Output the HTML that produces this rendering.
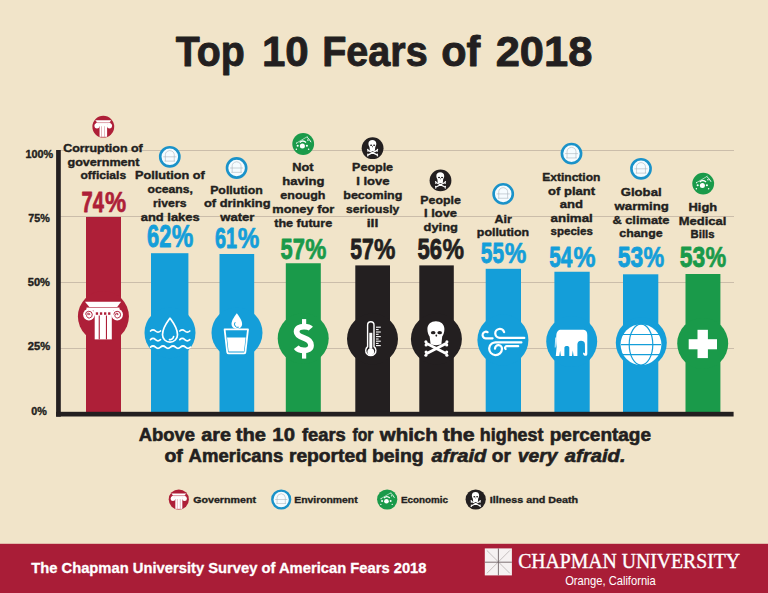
<!DOCTYPE html>
<html><head><meta charset="utf-8"><title>Top 10 Fears of 2018</title>
<style>html,body{margin:0;padding:0;background:#f1e4c9;} svg{display:block;}</style></head>
<body><svg width="768" height="593" viewBox="0 0 768 593">
<rect x="0" y="0" width="768" height="593" fill="#f1e4c9"/>
<text x="175.78" y="65.55" font-family="Liberation Sans" font-weight="bold" font-style="normal" font-size="42" fill="#231f20" textLength="69.10" lengthAdjust="spacingAndGlyphs" stroke="#231f20" stroke-width="0.9" stroke-linejoin="round">Top</text>
<text x="261.94" y="65.55" font-family="Liberation Sans" font-weight="bold" font-style="normal" font-size="42" fill="#231f20" textLength="46.83" lengthAdjust="spacingAndGlyphs" stroke="#231f20" stroke-width="0.9" stroke-linejoin="round">10</text>
<text x="322.21" y="65.55" font-family="Liberation Sans" font-weight="bold" font-style="normal" font-size="42" fill="#231f20" textLength="105.51" lengthAdjust="spacingAndGlyphs" stroke="#231f20" stroke-width="0.9" stroke-linejoin="round">Fears</text>
<text x="441.17" y="65.55" font-family="Liberation Sans" font-weight="bold" font-style="normal" font-size="42" fill="#231f20" textLength="39.12" lengthAdjust="spacingAndGlyphs" stroke="#231f20" stroke-width="0.9" stroke-linejoin="round">of</text>
<text x="495.70" y="65.55" font-family="Liberation Sans" font-weight="bold" font-style="normal" font-size="42" fill="#231f20" textLength="96.62" lengthAdjust="spacingAndGlyphs" stroke="#231f20" stroke-width="0.9" stroke-linejoin="round">2018</text>
<rect x="58" y="150.00" width="676" height="1.0" fill="#cbbdaa"/>
<rect x="58" y="216.00" width="676" height="1.0" fill="#cbbdaa"/>
<rect x="58" y="282.00" width="676" height="1.0" fill="#cbbdaa"/>
<rect x="58" y="348.00" width="676" height="1.0" fill="#cbbdaa"/>
<text x="25.42" y="157.50" font-family="Liberation Sans" font-weight="bold" font-style="normal" font-size="11.19" fill="#231f20" textLength="27.67" lengthAdjust="spacingAndGlyphs" stroke="#231f20" stroke-width="0.4" stroke-linejoin="round">100%</text>
<text x="28.22" y="221.50" font-family="Liberation Sans" font-weight="bold" font-style="normal" font-size="11.19" fill="#231f20" textLength="21.49" lengthAdjust="spacingAndGlyphs" stroke="#231f20" stroke-width="0.4" stroke-linejoin="round">75%</text>
<text x="27.78" y="286.10" font-family="Liberation Sans" font-weight="bold" font-style="normal" font-size="10.47" fill="#231f20" textLength="22.15" lengthAdjust="spacingAndGlyphs" stroke="#231f20" stroke-width="0.4" stroke-linejoin="round">50%</text>
<text x="27.77" y="350.40" font-family="Liberation Sans" font-weight="bold" font-style="normal" font-size="10.19" fill="#231f20" textLength="22.28" lengthAdjust="spacingAndGlyphs" stroke="#231f20" stroke-width="0.4" stroke-linejoin="round">25%</text>
<text x="31.21" y="414.50" font-family="Liberation Sans" font-weight="bold" font-style="normal" font-size="11.19" fill="#231f20" textLength="15.52" lengthAdjust="spacingAndGlyphs" stroke="#231f20" stroke-width="0.4" stroke-linejoin="round">0%</text>
<rect x="86" y="217" width="35.00" height="197.00" fill="#ae1f38"/>
<circle cx="103.4" cy="316.5" r="25.5" fill="#ae1f38"/>
<rect x="151" y="253.2" width="37.40" height="160.80" fill="#149ed9"/>
<circle cx="170" cy="332.7" r="25.5" fill="#149ed9"/>
<rect x="219.5" y="254" width="34.70" height="160.00" fill="#149ed9"/>
<circle cx="237" cy="332.8" r="25.5" fill="#149ed9"/>
<rect x="285.8" y="263.25" width="35.00" height="150.75" fill="#1a9a4a"/>
<circle cx="303.2" cy="338.5" r="25.5" fill="#1a9a4a"/>
<rect x="355.3" y="265.4" width="34.70" height="148.60" fill="#231f20"/>
<circle cx="372.5" cy="339" r="25.5" fill="#231f20"/>
<rect x="419.3" y="265.4" width="34.50" height="148.60" fill="#231f20"/>
<circle cx="436.4" cy="339" r="25.5" fill="#231f20"/>
<rect x="485.7" y="268.8" width="35.30" height="145.20" fill="#149ed9"/>
<circle cx="502.9" cy="340" r="25.5" fill="#149ed9"/>
<rect x="554.4" y="271.75" width="35.30" height="142.25" fill="#149ed9"/>
<circle cx="571.7" cy="341.6" r="25.5" fill="#149ed9"/>
<rect x="623" y="274.3" width="35.30" height="139.70" fill="#149ed9"/>
<circle cx="641.3" cy="342.8" r="25.5" fill="#149ed9"/>
<rect x="685.5" y="274" width="34.90" height="140.00" fill="#1a9a4a"/>
<circle cx="702.7" cy="343.4" r="25.5" fill="#1a9a4a"/>
<rect x="56.1" y="150" width="4.7" height="266.7" fill="#231f20"/>
<rect x="56.1" y="411.8" width="677.5" height="4.7" fill="#231f20"/>
<polygon points="85.00,301.80 121.10,301.80 117.20,306.90 89.30,306.90" fill="#ffffff"/>
<rect x="86.50" y="307.60" width="33.00" height="2.60" fill="#ffffff"/>
<circle cx="88.90" cy="314.60" r="5.80" fill="#ffffff"/>
<path d="M88.90,314.60 m-3.40,0 A3.40,3.40 0 1 1 89.50,318.00 A2.40,2.40 0 0 1 87.30,314.00 A1.30,1.30 0 0 1 89.80,314.60" fill="none" stroke="#ae1f38" stroke-width="0.95"/>
<circle cx="88.90" cy="314.60" r="0.70" fill="#ae1f38"/>
<circle cx="117.20" cy="314.60" r="5.80" fill="#ffffff"/>
<path d="M117.20,314.60 m-3.40,0 A3.40,3.40 0 1 1 117.80,318.00 A2.40,2.40 0 0 1 115.60,314.00 A1.30,1.30 0 0 1 118.10,314.60" fill="none" stroke="#ae1f38" stroke-width="0.95"/>
<circle cx="117.20" cy="314.60" r="0.70" fill="#ae1f38"/>
<rect x="93.50" y="309.50" width="19.60" height="6.00" fill="#ffffff"/>
<rect x="94.70" y="314.00" width="17.10" height="25.40" fill="#ffffff"/>
<rect x="95.80" y="312.30" width="2.30" height="2.50" fill="#ae1f38"/>
<rect x="99.90" y="312.30" width="2.30" height="2.50" fill="#ae1f38"/>
<rect x="104.00" y="312.30" width="2.30" height="2.50" fill="#ae1f38"/>
<rect x="108.10" y="312.30" width="2.30" height="2.50" fill="#ae1f38"/>
<rect x="98.70" y="315.50" width="1.10" height="23.90" fill="#ae1f38"/>
<rect x="105.90" y="315.50" width="1.10" height="23.90" fill="#ae1f38"/>
<g fill="none" stroke="#fff" stroke-width="1.7" stroke-linecap="round" stroke-linejoin="round">
<path d="M170,318.2 C166.5,323 162.5,328 162.5,334.7 A7.5,7.5 0 0 0 177.5,334.7 C177.5,328 173.5,323 170,318.2 Z"/>
<path d="M173.6,336.5 A3.6,3.6 0 0 1 169.5,339.6"/>
<path d="M150.5,331 q2.5,-2.4 5,0 q2.5,2.4 5,0"/><path d="M179.8,331 q2.5,-2.4 5,0 q2.5,2.4 5,0"/>
<path d="M150.5,339.6 q2.5,-2.4 5,0 q2.5,2.4 5,0"/><path d="M179.8,339.6 q2.5,-2.4 5,0 q2.5,2.4 5,0"/>
<path d="M150.5,347.2 q2.5,-2.4 5,0 q2.5,2.4 5,0 q2.5,-2.4 5,0 q2.5,2.4 5,0 q2.5,-2.4 5,0 q2.5,2.4 5,0 q2.5,-2.4 5,0 q2.5,2.4 5,0"/>
</g>
<path d="M236.8,313.3 C233,318.5 231.5,321.5 231.5,324 C231.5,327 233.8,328.8 236.8,328.8 C239.8,328.8 242.1,327 242.1,324 C242.1,321.5 240.6,318.5 236.8,313.3 Z" fill="#fff"/>
<path d="M235.2,322.2 A3.2,3.2 0 0 0 238.8,327.2" stroke="#149ed9" stroke-width="1" fill="none"/>
<path d="M224.6,329.4 L248,329.4 L245.4,352 Q245.2,353.4 243.8,353.4 L228.8,353.4 Q227.4,353.4 227.2,352 Z" fill="none" stroke="#fff" stroke-width="1.8" stroke-linejoin="round"/>
<path d="M227,337.4 L245.6,337.4 L244,351.4 L228.6,351.4 Z" fill="#fff"/>
<path d="M310.8,328.6 C309.2,326.8 306.8,326.6 304,326.6 C299.6,326.6 296.6,328.6 296.6,331.8 C296.6,335.2 299.8,336.6 304,338 C308.2,339.4 311,341.4 311,345.2 C311,348.8 308,350.4 304,350.4 C300.4,350.4 297.8,349.4 296.2,347.2" fill="none" stroke="#fff" stroke-width="5.8"/><rect x="302" y="319.1" width="4.2" height="6" fill="#fff"/><rect x="302" y="352" width="4.2" height="6.6" fill="#fff"/>
<path d="M367.6,346.6 L367.6,325 A3.2,3.2 0 0 1 374,325 L374,346.6 A5.1,5.1 0 1 1 367.6,346.6 Z" fill="none" stroke="#fff" stroke-width="1.4"/>
<rect x="369.3" y="332.8" width="3" height="16" fill="#fff"/><circle cx="370.8" cy="351.8" r="3.4" fill="#fff"/>
<g stroke="#fff" stroke-width="1.1">
<line x1="376" y1="327.2" x2="380.8" y2="327.2"/><line x1="376" y1="329.6" x2="378.6" y2="329.6"/><line x1="376" y1="332" x2="380.8" y2="332"/>
<line x1="376" y1="334.3" x2="378.6" y2="334.3"/><line x1="376" y1="336.6" x2="380.8" y2="336.6"/><line x1="376" y1="339" x2="378.6" y2="339"/>
<line x1="376" y1="341.2" x2="380.8" y2="341.2"/><line x1="376" y1="343.4" x2="378.6" y2="343.4"/><line x1="376" y1="345.6" x2="380.8" y2="345.6"/>
</g>
<path d="M426.80,343.60 L446.00,353.40 M446.00,343.60 L426.80,353.40" stroke="#ffffff" stroke-width="2.80" stroke-linecap="round"/>
<circle cx="425.90" cy="341.80" r="1.55" fill="#ffffff"/>
<circle cx="426.10" cy="344.90" r="1.55" fill="#ffffff"/>
<circle cx="446.90" cy="341.80" r="1.55" fill="#ffffff"/>
<circle cx="446.70" cy="344.90" r="1.55" fill="#ffffff"/>
<circle cx="425.90" cy="355.20" r="1.55" fill="#ffffff"/>
<circle cx="426.10" cy="352.10" r="1.55" fill="#ffffff"/>
<circle cx="446.90" cy="355.20" r="1.55" fill="#ffffff"/>
<circle cx="446.70" cy="352.10" r="1.55" fill="#ffffff"/>
<path d="M427.40,329.00 C427.40,324.00 431.00,321.20 435.90,321.20 C440.80,321.20 444.40,324.00 444.40,329.00 C444.40,332.50 443.30,335.00 442.20,336.50 L441.40,344.00 C440.00,345.50 432.00,345.50 430.60,344.00 L429.60,336.50 C428.50,335.00 427.40,332.50 427.40,329.00 Z" fill="#ffffff"/>
<ellipse cx="433.20" cy="332.70" rx="2.30" ry="1.60" fill="#231f20"/>
<ellipse cx="439.70" cy="332.70" rx="2.30" ry="1.60" fill="#231f20"/>
<ellipse cx="436.30" cy="335.60" rx="0.90" ry="1.10" fill="#231f20"/>
<g fill="none" stroke="#fff" stroke-width="2.2" stroke-linecap="round">
<path d="M504.1,332.1 A4.5,4.5 0 1 0 499.8,337.9 L524.3,337.9"/>
<path d="M487.6,332.2 A3.3,3.3 0 1 0 485.6,338.3 L492.6,338.3"/>
<path d="M521.4,342.4 L496.5,342.4 A6.4,6.4 0 1 0 502,348.8 A3.4,3.4 0 1 0 495,348.6"/>
<path d="M518.2,346.2 L506.6,346.2 A1.6,1.6 0 0 0 505.6,349"/>
</g>
<path d="M556.3,335.5 C556.6,331.5 558.5,329.8 561,329.8 L583.5,329.8 C586,329.8 587.3,332 587.3,335 L587.3,354 C587.3,356.6 583.4,356.6 583,353.2 L583.2,352.2 C583.9,353.6 585,353.6 585,352.2 L584.9,344 C584.9,342 583,340.8 581,340.8 C578.8,340.8 577.4,342.4 577.4,344.5 L577.4,356.1 L573.6,356.1 L572.8,350.5 L572,356.1 L569.3,356.1 L569.3,347.8 C569.3,346.6 568.3,346 566.9,346 C565.4,346 564.4,346.6 564.4,347.8 L564.4,356.1 L560.9,356.1 L560.1,350.8 L559.3,356.1 L555.8,356.1 L556.6,347 C556.1,343 556,339 556.3,335.5 Z" fill="#fff"/><path d="M555.7,337.5 L555.2,347.5" stroke="#fff" stroke-width="0.8"/>
<circle cx="641" cy="344.6" r="20.4" fill="#fff"/>
<g fill="none" stroke="#149ed9" stroke-width="1.2"><ellipse cx="641" cy="344.6" rx="11.8" ry="20.4"/>
<line x1="621" y1="344.6" x2="661" y2="344.6"/><line x1="623" y1="334.5" x2="659" y2="334.5"/><line x1="623" y1="354.6" x2="659" y2="354.6"/></g>
<rect x="697.5" y="329.8" width="10.4" height="28.3" fill="#fff"/><rect x="688.7" y="339.2" width="28.3" height="10.1" fill="#fff"/>
<circle cx="103.3" cy="126.7" r="10.9" fill="#ae1f38"/><polygon points="95.27,120.20 111.22,120.20 109.50,122.46 97.17,122.46" fill="#ffffff"/>
<rect x="95.93" y="122.77" width="14.59" height="1.15" fill="#ffffff"/>
<circle cx="96.99" cy="125.86" r="2.56" fill="#ffffff"/>
<circle cx="109.50" cy="125.86" r="2.56" fill="#ffffff"/>
<rect x="99.02" y="123.61" width="8.66" height="2.65" fill="#ffffff"/>
<rect x="99.55" y="125.59" width="7.56" height="11.23" fill="#ffffff"/>
<rect x="101.28" y="126.26" width="0.53" height="10.56" fill="#ae1f38" opacity="0.6"/>
<rect x="104.46" y="126.26" width="0.53" height="10.56" fill="#ae1f38" opacity="0.6"/>
<circle cx="169.8" cy="156.8" r="9.59" fill="#f6fcff" stroke="#1a92c9" stroke-width="2.62"/>
<path d="M165.36,161.14 L165.36,154.58 Q165.56,151.15 169.80,150.54 Q174.04,151.15 174.24,154.58 L174.24,161.14 M164.55,161.14 L175.05,161.14 M163.24,156.80 L176.36,156.80" fill="none" stroke="#aab4bc" stroke-width="0.66" opacity="0.9"/>
<circle cx="236.6" cy="168" r="9.59" fill="#f6fcff" stroke="#1a92c9" stroke-width="2.62"/>
<path d="M232.16,172.34 L232.16,165.78 Q232.36,162.35 236.60,161.74 Q240.84,162.35 241.04,165.78 L241.04,172.34 M231.35,172.34 L241.85,172.34 M230.04,168.00 L243.16,168.00" fill="none" stroke="#aab4bc" stroke-width="0.66" opacity="0.9"/>
<circle cx="303.2" cy="144" r="10.9" fill="#1a9a4a"/>
<circle cx="302.40" cy="145.91" r="2.51" fill="#fff"/>
<circle cx="297.67" cy="145.71" r="1.05" fill="#fff"/>
<circle cx="306.92" cy="145.71" r="1.05" fill="#fff"/>
<circle cx="296.37" cy="149.22" r="0.75" fill="#fff"/>
<circle cx="308.62" cy="149.22" r="0.75" fill="#fff"/>
<circle cx="307.92" cy="140.08" r="0.80" fill="#fff"/>
<circle cx="296.57" cy="143.10" r="0.60" fill="#fff"/>
<path d="M299.78,142.39 Q302.80,139.38 306.01,142.39" fill="none" stroke="#fff" stroke-width="1.41"/>
<path d="M296.57,143.00 L307.62,136.47" fill="none" stroke="#fff" stroke-width="0.70" opacity="0.85"/>
<path d="M306.82,136.97 L309.23,139.38 L311.04,142.19" fill="none" stroke="#fff" stroke-width="1.00" opacity="0.9"/>
<circle cx="372.6" cy="148.2" r="10.9" fill="#231f20"/><path d="M368.16,150.33 L377.04,154.85 M377.04,150.33 L368.16,154.85" stroke="#ffffff" stroke-width="1.29" stroke-linecap="round"/>
<circle cx="367.75" cy="149.49" r="0.72" fill="#ffffff"/>
<circle cx="367.84" cy="150.93" r="0.72" fill="#ffffff"/>
<circle cx="377.45" cy="149.49" r="0.72" fill="#ffffff"/>
<circle cx="377.36" cy="150.93" r="0.72" fill="#ffffff"/>
<circle cx="367.75" cy="155.69" r="0.72" fill="#ffffff"/>
<circle cx="367.84" cy="154.25" r="0.72" fill="#ffffff"/>
<circle cx="377.45" cy="155.69" r="0.72" fill="#ffffff"/>
<circle cx="377.36" cy="154.25" r="0.72" fill="#ffffff"/>
<path d="M368.44,143.58 C368.44,141.27 370.10,139.97 372.37,139.97 C374.63,139.97 376.30,141.27 376.30,143.58 C376.30,145.20 375.79,146.35 375.28,147.04 L374.91,150.51 C374.26,151.20 370.57,151.20 369.92,150.51 L369.46,147.04 C368.95,146.35 368.44,145.20 368.44,143.58 Z" fill="#ffffff"/>
<ellipse cx="371.12" cy="145.29" rx="1.06" ry="0.74" fill="#231f20"/>
<ellipse cx="374.12" cy="145.29" rx="1.06" ry="0.74" fill="#231f20"/>
<ellipse cx="372.55" cy="146.63" rx="0.42" ry="0.51" fill="#231f20"/>
<circle cx="440.5" cy="180.4" r="10.9" fill="#231f20"/><path d="M436.06,182.53 L444.94,187.05 M444.94,182.53 L436.06,187.05" stroke="#ffffff" stroke-width="1.29" stroke-linecap="round"/>
<circle cx="435.65" cy="181.69" r="0.72" fill="#ffffff"/>
<circle cx="435.74" cy="183.13" r="0.72" fill="#ffffff"/>
<circle cx="445.35" cy="181.69" r="0.72" fill="#ffffff"/>
<circle cx="445.26" cy="183.13" r="0.72" fill="#ffffff"/>
<circle cx="435.65" cy="187.89" r="0.72" fill="#ffffff"/>
<circle cx="435.74" cy="186.45" r="0.72" fill="#ffffff"/>
<circle cx="445.35" cy="187.89" r="0.72" fill="#ffffff"/>
<circle cx="445.26" cy="186.45" r="0.72" fill="#ffffff"/>
<path d="M436.34,175.78 C436.34,173.47 438.00,172.17 440.27,172.17 C442.53,172.17 444.20,173.47 444.20,175.78 C444.20,177.40 443.69,178.55 443.18,179.24 L442.81,182.71 C442.16,183.40 438.47,183.40 437.82,182.71 L437.36,179.24 C436.85,178.55 436.34,177.40 436.34,175.78 Z" fill="#ffffff"/>
<ellipse cx="439.02" cy="177.49" rx="1.06" ry="0.74" fill="#231f20"/>
<ellipse cx="442.02" cy="177.49" rx="1.06" ry="0.74" fill="#231f20"/>
<ellipse cx="440.45" cy="178.83" rx="0.42" ry="0.51" fill="#231f20"/>
<circle cx="503.2" cy="193.9" r="9.59" fill="#f6fcff" stroke="#1a92c9" stroke-width="2.62"/>
<path d="M498.76,198.24 L498.76,191.68 Q498.96,188.25 503.20,187.64 Q507.44,188.25 507.64,191.68 L507.64,198.24 M497.95,198.24 L508.45,198.24 M496.64,193.90 L509.76,193.90" fill="none" stroke="#aab4bc" stroke-width="0.66" opacity="0.9"/>
<circle cx="571.5" cy="153.6" r="9.59" fill="#f6fcff" stroke="#1a92c9" stroke-width="2.62"/>
<path d="M567.06,157.94 L567.06,151.38 Q567.26,147.95 571.50,147.34 Q575.74,147.95 575.94,151.38 L575.94,157.94 M566.25,157.94 L576.75,157.94 M564.94,153.60 L578.06,153.60" fill="none" stroke="#aab4bc" stroke-width="0.66" opacity="0.9"/>
<circle cx="641" cy="168.8" r="9.59" fill="#f6fcff" stroke="#1a92c9" stroke-width="2.62"/>
<path d="M636.56,173.14 L636.56,166.58 Q636.76,163.15 641.00,162.54 Q645.24,163.15 645.44,166.58 L645.44,173.14 M635.75,173.14 L646.25,173.14 M634.44,168.80 L647.56,168.80" fill="none" stroke="#aab4bc" stroke-width="0.66" opacity="0.9"/>
<circle cx="703.2" cy="183.6" r="10.9" fill="#1a9a4a"/>
<circle cx="702.40" cy="185.51" r="2.51" fill="#fff"/>
<circle cx="697.67" cy="185.31" r="1.05" fill="#fff"/>
<circle cx="706.92" cy="185.31" r="1.05" fill="#fff"/>
<circle cx="696.37" cy="188.82" r="0.75" fill="#fff"/>
<circle cx="708.62" cy="188.82" r="0.75" fill="#fff"/>
<circle cx="707.92" cy="179.68" r="0.80" fill="#fff"/>
<circle cx="696.57" cy="182.70" r="0.60" fill="#fff"/>
<path d="M699.78,181.99 Q702.80,178.98 706.01,181.99" fill="none" stroke="#fff" stroke-width="1.41"/>
<path d="M696.57,182.60 L707.62,176.07" fill="none" stroke="#fff" stroke-width="0.70" opacity="0.85"/>
<path d="M706.82,176.57 L709.23,178.98 L711.04,181.79" fill="none" stroke="#fff" stroke-width="1.00" opacity="0.9"/>
<text x="81.49" y="212.00" font-family="Liberation Sans" font-weight="bold" font-style="normal" font-size="30.29" fill="#ae1f38" textLength="22.29" lengthAdjust="spacingAndGlyphs" stroke="#ae1f38" stroke-width="0.9" stroke-linejoin="round">74</text>
<text x="104.90" y="212.10" font-family="Liberation Sans" font-weight="bold" font-style="normal" font-size="30.29" fill="#ae1f38" textLength="21.14" lengthAdjust="spacingAndGlyphs" stroke="#ae1f38" stroke-width="0.7" stroke-linejoin="round">%</text>
<text x="147.06" y="247.05" font-family="Liberation Sans" font-weight="bold" font-style="normal" font-size="30.59" fill="#149ed9" textLength="24.29" lengthAdjust="spacingAndGlyphs" stroke="#149ed9" stroke-width="0.9" stroke-linejoin="round">62</text>
<text x="171.79" y="247.15" font-family="Liberation Sans" font-weight="bold" font-style="normal" font-size="30.59" fill="#149ed9" textLength="21.61" lengthAdjust="spacingAndGlyphs" stroke="#149ed9" stroke-width="0.7" stroke-linejoin="round">%</text>
<text x="214.93" y="247.75" font-family="Liberation Sans" font-weight="bold" font-style="normal" font-size="30.29" fill="#149ed9" textLength="22.04" lengthAdjust="spacingAndGlyphs" stroke="#149ed9" stroke-width="0.9" stroke-linejoin="round">61</text>
<text x="237.69" y="247.85" font-family="Liberation Sans" font-weight="bold" font-style="normal" font-size="30.29" fill="#149ed9" textLength="21.57" lengthAdjust="spacingAndGlyphs" stroke="#149ed9" stroke-width="0.7" stroke-linejoin="round">%</text>
<text x="280.60" y="259.00" font-family="Liberation Sans" font-weight="bold" font-style="normal" font-size="30.29" fill="#1a9a4a" textLength="24.28" lengthAdjust="spacingAndGlyphs" stroke="#1a9a4a" stroke-width="0.9" stroke-linejoin="round">57</text>
<text x="305.20" y="259.10" font-family="Liberation Sans" font-weight="bold" font-style="normal" font-size="30.29" fill="#1a9a4a" textLength="21.14" lengthAdjust="spacingAndGlyphs" stroke="#1a9a4a" stroke-width="0.7" stroke-linejoin="round">%</text>
<text x="350.22" y="259.00" font-family="Liberation Sans" font-weight="bold" font-style="normal" font-size="30.29" fill="#231f20" textLength="23.48" lengthAdjust="spacingAndGlyphs" stroke="#231f20" stroke-width="0.9" stroke-linejoin="round">57</text>
<text x="374.04" y="259.10" font-family="Liberation Sans" font-weight="bold" font-style="normal" font-size="30.29" fill="#231f20" textLength="21.41" lengthAdjust="spacingAndGlyphs" stroke="#231f20" stroke-width="0.7" stroke-linejoin="round">%</text>
<text x="417.59" y="259.00" font-family="Liberation Sans" font-weight="bold" font-style="normal" font-size="30.29" fill="#231f20" textLength="24.56" lengthAdjust="spacingAndGlyphs" stroke="#231f20" stroke-width="0.9" stroke-linejoin="round">56</text>
<text x="442.59" y="259.10" font-family="Liberation Sans" font-weight="bold" font-style="normal" font-size="30.29" fill="#231f20" textLength="21.57" lengthAdjust="spacingAndGlyphs" stroke="#231f20" stroke-width="0.7" stroke-linejoin="round">%</text>
<text x="480.83" y="263.35" font-family="Liberation Sans" font-weight="bold" font-style="normal" font-size="30.29" fill="#149ed9" textLength="23.17" lengthAdjust="spacingAndGlyphs" stroke="#149ed9" stroke-width="0.9" stroke-linejoin="round">55</text>
<text x="504.69" y="263.45" font-family="Liberation Sans" font-weight="bold" font-style="normal" font-size="30.29" fill="#149ed9" textLength="21.57" lengthAdjust="spacingAndGlyphs" stroke="#149ed9" stroke-width="0.7" stroke-linejoin="round">%</text>
<text x="549.23" y="266.55" font-family="Liberation Sans" font-weight="bold" font-style="normal" font-size="30.29" fill="#149ed9" textLength="23.05" lengthAdjust="spacingAndGlyphs" stroke="#149ed9" stroke-width="0.9" stroke-linejoin="round">54</text>
<text x="573.38" y="266.65" font-family="Liberation Sans" font-weight="bold" font-style="normal" font-size="30.29" fill="#149ed9" textLength="21.99" lengthAdjust="spacingAndGlyphs" stroke="#149ed9" stroke-width="0.7" stroke-linejoin="round">%</text>
<text x="617.77" y="267.00" font-family="Liberation Sans" font-weight="bold" font-style="normal" font-size="30.29" fill="#149ed9" textLength="25.41" lengthAdjust="spacingAndGlyphs" stroke="#149ed9" stroke-width="0.9" stroke-linejoin="round">53</text>
<text x="643.61" y="267.10" font-family="Liberation Sans" font-weight="bold" font-style="normal" font-size="30.29" fill="#149ed9" textLength="20.72" lengthAdjust="spacingAndGlyphs" stroke="#149ed9" stroke-width="0.7" stroke-linejoin="round">%</text>
<text x="679.77" y="267.00" font-family="Liberation Sans" font-weight="bold" font-style="normal" font-size="30.29" fill="#1a9a4a" textLength="25.41" lengthAdjust="spacingAndGlyphs" stroke="#1a9a4a" stroke-width="0.9" stroke-linejoin="round">53</text>
<text x="705.61" y="267.10" font-family="Liberation Sans" font-weight="bold" font-style="normal" font-size="30.29" fill="#1a9a4a" textLength="20.72" lengthAdjust="spacingAndGlyphs" stroke="#1a9a4a" stroke-width="0.7" stroke-linejoin="round">%</text>
<text x="63.16" y="151.70" font-family="Liberation Sans" font-weight="bold" font-style="normal" font-size="11.6" fill="#231f20" textLength="79.63" lengthAdjust="spacingAndGlyphs" stroke="#231f20" stroke-width="0.4" stroke-linejoin="round">Corruption of</text>
<text x="67.46" y="165.70" font-family="Liberation Sans" font-weight="bold" font-style="normal" font-size="11.6" fill="#231f20" textLength="72.05" lengthAdjust="spacingAndGlyphs" stroke="#231f20" stroke-width="0.4" stroke-linejoin="round">government</text>
<text x="80.48" y="179.00" font-family="Liberation Sans" font-weight="bold" font-style="normal" font-size="11.6" fill="#231f20" textLength="45.67" lengthAdjust="spacingAndGlyphs" stroke="#231f20" stroke-width="0.4" stroke-linejoin="round">officials</text>
<text x="135.03" y="178.90" font-family="Liberation Sans" font-weight="bold" font-style="normal" font-size="11.6" fill="#231f20" textLength="69.76" lengthAdjust="spacingAndGlyphs" stroke="#231f20" stroke-width="0.4" stroke-linejoin="round">Pollution of</text>
<text x="147.48" y="193.00" font-family="Liberation Sans" font-weight="bold" font-style="normal" font-size="11.6" fill="#231f20" textLength="45.36" lengthAdjust="spacingAndGlyphs" stroke="#231f20" stroke-width="0.4" stroke-linejoin="round">oceans,</text>
<text x="153.11" y="207.10" font-family="Liberation Sans" font-weight="bold" font-style="normal" font-size="11.6" fill="#231f20" textLength="33.37" lengthAdjust="spacingAndGlyphs" stroke="#231f20" stroke-width="0.4" stroke-linejoin="round">rivers</text>
<text x="140.77" y="220.60" font-family="Liberation Sans" font-weight="bold" font-style="normal" font-size="11.6" fill="#231f20" textLength="58.86" lengthAdjust="spacingAndGlyphs" stroke="#231f20" stroke-width="0.4" stroke-linejoin="round">and lakes</text>
<text x="210.15" y="193.70" font-family="Liberation Sans" font-weight="bold" font-style="normal" font-size="11.6" fill="#231f20" textLength="52.71" lengthAdjust="spacingAndGlyphs" stroke="#231f20" stroke-width="0.4" stroke-linejoin="round">Pollution</text>
<text x="203.96" y="207.30" font-family="Liberation Sans" font-weight="bold" font-style="normal" font-size="11.6" fill="#231f20" textLength="66.56" lengthAdjust="spacingAndGlyphs" stroke="#231f20" stroke-width="0.4" stroke-linejoin="round">of drinking</text>
<text x="220.30" y="221.40" font-family="Liberation Sans" font-weight="bold" font-style="normal" font-size="11.6" fill="#231f20" textLength="34.13" lengthAdjust="spacingAndGlyphs" stroke="#231f20" stroke-width="0.4" stroke-linejoin="round">water</text>
<text x="292.32" y="171.20" font-family="Liberation Sans" font-weight="bold" font-style="normal" font-size="11.6" fill="#231f20" textLength="21.32" lengthAdjust="spacingAndGlyphs" stroke="#231f20" stroke-width="0.4" stroke-linejoin="round">Not</text>
<text x="282.30" y="184.80" font-family="Liberation Sans" font-weight="bold" font-style="normal" font-size="11.6" fill="#231f20" textLength="42.08" lengthAdjust="spacingAndGlyphs" stroke="#231f20" stroke-width="0.4" stroke-linejoin="round">having</text>
<text x="280.37" y="199.00" font-family="Liberation Sans" font-weight="bold" font-style="normal" font-size="11.6" fill="#231f20" textLength="45.06" lengthAdjust="spacingAndGlyphs" stroke="#231f20" stroke-width="0.4" stroke-linejoin="round">enough</text>
<text x="272.32" y="212.50" font-family="Liberation Sans" font-weight="bold" font-style="normal" font-size="11.6" fill="#231f20" textLength="61.98" lengthAdjust="spacingAndGlyphs" stroke="#231f20" stroke-width="0.4" stroke-linejoin="round">money for</text>
<text x="274.19" y="226.70" font-family="Liberation Sans" font-weight="bold" font-style="normal" font-size="11.6" fill="#231f20" textLength="58.03" lengthAdjust="spacingAndGlyphs" stroke="#231f20" stroke-width="0.4" stroke-linejoin="round">the future</text>
<text x="352.14" y="171.20" font-family="Liberation Sans" font-weight="bold" font-style="normal" font-size="11.6" fill="#231f20" textLength="40.92" lengthAdjust="spacingAndGlyphs" stroke="#231f20" stroke-width="0.4" stroke-linejoin="round">People</text>
<text x="356.20" y="184.80" font-family="Liberation Sans" font-weight="bold" font-style="normal" font-size="11.6" fill="#231f20" textLength="33.41" lengthAdjust="spacingAndGlyphs" stroke="#231f20" stroke-width="0.4" stroke-linejoin="round">I love</text>
<text x="343.24" y="199.00" font-family="Liberation Sans" font-weight="bold" font-style="normal" font-size="11.6" fill="#231f20" textLength="59.21" lengthAdjust="spacingAndGlyphs" stroke="#231f20" stroke-width="0.4" stroke-linejoin="round">becoming</text>
<text x="346.08" y="212.50" font-family="Liberation Sans" font-weight="bold" font-style="normal" font-size="11.6" fill="#231f20" textLength="53.16" lengthAdjust="spacingAndGlyphs" stroke="#231f20" stroke-width="0.4" stroke-linejoin="round">seriously</text>
<text x="366.73" y="226.70" font-family="Liberation Sans" font-weight="bold" font-style="normal" font-size="11.6" fill="#231f20" textLength="11.73" lengthAdjust="spacingAndGlyphs" stroke="#231f20" stroke-width="0.4" stroke-linejoin="round">ill</text>
<text x="420.35" y="203.50" font-family="Liberation Sans" font-weight="bold" font-style="normal" font-size="11.6" fill="#231f20" textLength="40.41" lengthAdjust="spacingAndGlyphs" stroke="#231f20" stroke-width="0.4" stroke-linejoin="round">People</text>
<text x="424.06" y="217.40" font-family="Liberation Sans" font-weight="bold" font-style="normal" font-size="11.6" fill="#231f20" textLength="32.94" lengthAdjust="spacingAndGlyphs" stroke="#231f20" stroke-width="0.4" stroke-linejoin="round">I love</text>
<text x="423.54" y="230.90" font-family="Liberation Sans" font-weight="bold" font-style="normal" font-size="11.6" fill="#231f20" textLength="34.38" lengthAdjust="spacingAndGlyphs" stroke="#231f20" stroke-width="0.4" stroke-linejoin="round">dying</text>
<text x="494.58" y="222.50" font-family="Liberation Sans" font-weight="bold" font-style="normal" font-size="11.6" fill="#231f20" textLength="17.25" lengthAdjust="spacingAndGlyphs" stroke="#231f20" stroke-width="0.4" stroke-linejoin="round">Air</text>
<text x="476.85" y="235.70" font-family="Liberation Sans" font-weight="bold" font-style="normal" font-size="11.6" fill="#231f20" textLength="52.26" lengthAdjust="spacingAndGlyphs" stroke="#231f20" stroke-width="0.4" stroke-linejoin="round">pollution</text>
<text x="542.27" y="180.75" font-family="Liberation Sans" font-weight="bold" font-style="normal" font-size="11.6" fill="#231f20" textLength="58.12" lengthAdjust="spacingAndGlyphs" stroke="#231f20" stroke-width="0.4" stroke-linejoin="round">Extinction</text>
<text x="548.05" y="194.50" font-family="Liberation Sans" font-weight="bold" font-style="normal" font-size="11.6" fill="#231f20" textLength="47.05" lengthAdjust="spacingAndGlyphs" stroke="#231f20" stroke-width="0.4" stroke-linejoin="round">of plant</text>
<text x="559.76" y="208.10" font-family="Liberation Sans" font-weight="bold" font-style="normal" font-size="11.6" fill="#231f20" textLength="23.27" lengthAdjust="spacingAndGlyphs" stroke="#231f20" stroke-width="0.4" stroke-linejoin="round">and</text>
<text x="550.61" y="222.00" font-family="Liberation Sans" font-weight="bold" font-style="normal" font-size="11.6" fill="#231f20" textLength="42.17" lengthAdjust="spacingAndGlyphs" stroke="#231f20" stroke-width="0.4" stroke-linejoin="round">animal</text>
<text x="550.55" y="235.40" font-family="Liberation Sans" font-weight="bold" font-style="normal" font-size="11.6" fill="#231f20" textLength="42.31" lengthAdjust="spacingAndGlyphs" stroke="#231f20" stroke-width="0.4" stroke-linejoin="round">species</text>
<text x="620.78" y="196.10" font-family="Liberation Sans" font-weight="bold" font-style="normal" font-size="11.6" fill="#231f20" textLength="40.81" lengthAdjust="spacingAndGlyphs" stroke="#231f20" stroke-width="0.4" stroke-linejoin="round">Global</text>
<text x="614.60" y="209.70" font-family="Liberation Sans" font-weight="bold" font-style="normal" font-size="11.6" fill="#231f20" textLength="54.31" lengthAdjust="spacingAndGlyphs" stroke="#231f20" stroke-width="0.4" stroke-linejoin="round">warming</text>
<text x="612.45" y="223.80" font-family="Liberation Sans" font-weight="bold" font-style="normal" font-size="11.6" fill="#231f20" textLength="56.97" lengthAdjust="spacingAndGlyphs" stroke="#231f20" stroke-width="0.4" stroke-linejoin="round">&amp; climate</text>
<text x="619.37" y="237.40" font-family="Liberation Sans" font-weight="bold" font-style="normal" font-size="11.6" fill="#231f20" textLength="43.16" lengthAdjust="spacingAndGlyphs" stroke="#231f20" stroke-width="0.4" stroke-linejoin="round">change</text>
<text x="688.51" y="210.50" font-family="Liberation Sans" font-weight="bold" font-style="normal" font-size="11.6" fill="#231f20" textLength="28.64" lengthAdjust="spacingAndGlyphs" stroke="#231f20" stroke-width="0.4" stroke-linejoin="round">High</text>
<text x="678.81" y="224.60" font-family="Liberation Sans" font-weight="bold" font-style="normal" font-size="11.6" fill="#231f20" textLength="47.54" lengthAdjust="spacingAndGlyphs" stroke="#231f20" stroke-width="0.4" stroke-linejoin="round">Medical</text>
<text x="690.62" y="238.20" font-family="Liberation Sans" font-weight="bold" font-style="normal" font-size="11.6" fill="#231f20" textLength="23.86" lengthAdjust="spacingAndGlyphs" stroke="#231f20" stroke-width="0.4" stroke-linejoin="round">Bills</text>
<text x="138.80" y="440.60" font-family="Liberation Sans" font-weight="bold" font-style="normal" font-size="18.4" fill="#231f20" textLength="56.33" lengthAdjust="spacingAndGlyphs" stroke="#231f20" stroke-width="0.6" stroke-linejoin="round">Above</text>
<text x="201.16" y="440.60" font-family="Liberation Sans" font-weight="bold" font-style="normal" font-size="18.4" fill="#231f20" textLength="29.82" lengthAdjust="spacingAndGlyphs" stroke="#231f20" stroke-width="0.6" stroke-linejoin="round">are</text>
<text x="235.78" y="440.60" font-family="Liberation Sans" font-weight="bold" font-style="normal" font-size="18.4" fill="#231f20" textLength="30.17" lengthAdjust="spacingAndGlyphs" stroke="#231f20" stroke-width="0.6" stroke-linejoin="round">the</text>
<text x="272.39" y="440.60" font-family="Liberation Sans" font-weight="bold" font-style="normal" font-size="18.4" fill="#231f20" textLength="22.56" lengthAdjust="spacingAndGlyphs" stroke="#231f20" stroke-width="0.6" stroke-linejoin="round">10</text>
<text x="302.00" y="440.60" font-family="Liberation Sans" font-weight="bold" font-style="normal" font-size="18.4" fill="#231f20" textLength="43.78" lengthAdjust="spacingAndGlyphs" stroke="#231f20" stroke-width="0.6" stroke-linejoin="round">fears</text>
<text x="352.44" y="440.60" font-family="Liberation Sans" font-weight="bold" font-style="normal" font-size="18.4" fill="#231f20" textLength="20.95" lengthAdjust="spacingAndGlyphs" stroke="#231f20" stroke-width="0.6" stroke-linejoin="round">for</text>
<text x="379.81" y="440.60" font-family="Liberation Sans" font-weight="bold" font-style="normal" font-size="18.4" fill="#231f20" textLength="57.95" lengthAdjust="spacingAndGlyphs" stroke="#231f20" stroke-width="0.6" stroke-linejoin="round">which</text>
<text x="442.67" y="440.60" font-family="Liberation Sans" font-weight="bold" font-style="normal" font-size="18.4" fill="#231f20" textLength="32.03" lengthAdjust="spacingAndGlyphs" stroke="#231f20" stroke-width="0.6" stroke-linejoin="round">the</text>
<text x="479.84" y="440.60" font-family="Liberation Sans" font-weight="bold" font-style="normal" font-size="18.4" fill="#231f20" textLength="63.58" lengthAdjust="spacingAndGlyphs" stroke="#231f20" stroke-width="0.6" stroke-linejoin="round">highest</text>
<text x="549.76" y="440.60" font-family="Liberation Sans" font-weight="bold" font-style="normal" font-size="18.4" fill="#231f20" textLength="101.23" lengthAdjust="spacingAndGlyphs" stroke="#231f20" stroke-width="0.6" stroke-linejoin="round">percentage</text>
<text x="164.46" y="461.50" font-family="Liberation Sans" font-weight="bold" font-style="normal" font-size="18.4" fill="#231f20" textLength="18.41" lengthAdjust="spacingAndGlyphs" stroke="#231f20" stroke-width="0.6" stroke-linejoin="round">of</text>
<text x="188.60" y="461.50" font-family="Liberation Sans" font-weight="bold" font-style="normal" font-size="18.4" fill="#231f20" textLength="94.60" lengthAdjust="spacingAndGlyphs" stroke="#231f20" stroke-width="0.6" stroke-linejoin="round">Americans</text>
<text x="288.95" y="461.50" font-family="Liberation Sans" font-weight="bold" font-style="normal" font-size="18.4" fill="#231f20" textLength="78.04" lengthAdjust="spacingAndGlyphs" stroke="#231f20" stroke-width="0.6" stroke-linejoin="round">reported</text>
<text x="371.93" y="461.50" font-family="Liberation Sans" font-weight="bold" font-style="normal" font-size="18.4" fill="#231f20" textLength="51.80" lengthAdjust="spacingAndGlyphs" stroke="#231f20" stroke-width="0.6" stroke-linejoin="round">being</text>
<text x="431.49" y="461.50" font-family="Liberation Sans" font-weight="bold" font-style="italic" font-size="18.4" fill="#231f20" textLength="54.98" lengthAdjust="spacingAndGlyphs" stroke="#231f20" stroke-width="0.6" stroke-linejoin="round">afraid</text>
<text x="491.77" y="461.50" font-family="Liberation Sans" font-weight="bold" font-style="normal" font-size="18.4" fill="#231f20" textLength="19.14" lengthAdjust="spacingAndGlyphs" stroke="#231f20" stroke-width="0.6" stroke-linejoin="round">or</text>
<text x="517.86" y="461.50" font-family="Liberation Sans" font-weight="bold" font-style="italic" font-size="18.4" fill="#231f20" textLength="39.47" lengthAdjust="spacingAndGlyphs" stroke="#231f20" stroke-width="0.6" stroke-linejoin="round">very</text>
<text x="564.89" y="461.50" font-family="Liberation Sans" font-weight="bold" font-style="italic" font-size="18.4" fill="#231f20" textLength="60.69" lengthAdjust="spacingAndGlyphs" stroke="#231f20" stroke-width="0.6" stroke-linejoin="round">afraid.</text>
<circle cx="178.8" cy="499.5" r="10.1" fill="#ae1f38"/><polygon points="171.36,493.48 186.14,493.48 184.55,495.57 173.12,495.57" fill="#ffffff"/>
<rect x="171.97" y="495.85" width="13.52" height="1.06" fill="#ffffff"/>
<circle cx="172.95" cy="498.72" r="2.38" fill="#ffffff"/>
<circle cx="184.55" cy="498.72" r="2.38" fill="#ffffff"/>
<rect x="174.84" y="496.63" width="8.03" height="2.46" fill="#ffffff"/>
<rect x="175.33" y="498.48" width="7.00" height="10.40" fill="#ffffff"/>
<rect x="176.93" y="499.09" width="0.49" height="9.79" fill="#ae1f38" opacity="0.6"/>
<rect x="179.88" y="499.09" width="0.49" height="9.79" fill="#ae1f38" opacity="0.6"/>
<text x="193.22" y="503.12" font-family="Liberation Sans" font-weight="bold" font-style="normal" font-size="9.4" fill="#231f20" textLength="62.79" lengthAdjust="spacingAndGlyphs" stroke="#231f20" stroke-width="0.35" stroke-linejoin="round">Government</text>
<circle cx="281.2" cy="499.5" r="8.88" fill="#f6fcff" stroke="#1a92c9" stroke-width="2.43"/>
<path d="M277.09,503.52 L277.09,497.44 Q277.27,494.26 281.20,493.70 Q285.13,494.26 285.31,497.44 L285.31,503.52 M276.34,503.52 L286.06,503.52 M275.12,499.50 L287.28,499.50" fill="none" stroke="#aab4bc" stroke-width="0.61" opacity="0.9"/>
<text x="294.21" y="503.12" font-family="Liberation Sans" font-weight="bold" font-style="normal" font-size="9.4" fill="#231f20" textLength="63.48" lengthAdjust="spacingAndGlyphs" stroke="#231f20" stroke-width="0.35" stroke-linejoin="round">Environment</text>
<circle cx="387.2" cy="499.5" r="10.1" fill="#1a9a4a"/>
<circle cx="386.46" cy="501.27" r="2.33" fill="#fff"/>
<circle cx="382.08" cy="501.08" r="0.98" fill="#fff"/>
<circle cx="390.64" cy="501.08" r="0.98" fill="#fff"/>
<circle cx="380.87" cy="504.34" r="0.70" fill="#fff"/>
<circle cx="392.23" cy="504.34" r="0.70" fill="#fff"/>
<circle cx="391.58" cy="495.87" r="0.74" fill="#fff"/>
<circle cx="381.06" cy="498.66" r="0.56" fill="#fff"/>
<path d="M384.04,498.01 Q386.83,495.22 389.81,498.01" fill="none" stroke="#fff" stroke-width="1.30"/>
<path d="M381.06,498.57 L391.30,492.52" fill="none" stroke="#fff" stroke-width="0.65" opacity="0.85"/>
<path d="M390.55,492.98 L392.79,495.22 L394.46,497.82" fill="none" stroke="#fff" stroke-width="0.93" opacity="0.9"/>
<text x="401.05" y="503.12" font-family="Liberation Sans" font-weight="bold" font-style="normal" font-size="9.4" fill="#231f20" textLength="47.01" lengthAdjust="spacingAndGlyphs" stroke="#231f20" stroke-width="0.35" stroke-linejoin="round">Economic</text>
<circle cx="475.7" cy="499.5" r="10.1" fill="#231f20"/><path d="M471.59,501.47 L479.81,505.67 M479.81,501.47 L471.59,505.67" stroke="#ffffff" stroke-width="1.20" stroke-linecap="round"/>
<circle cx="471.20" cy="500.70" r="0.66" fill="#ffffff"/>
<circle cx="471.29" cy="502.03" r="0.66" fill="#ffffff"/>
<circle cx="480.20" cy="500.70" r="0.66" fill="#ffffff"/>
<circle cx="480.11" cy="502.03" r="0.66" fill="#ffffff"/>
<circle cx="471.20" cy="506.44" r="0.66" fill="#ffffff"/>
<circle cx="471.29" cy="505.11" r="0.66" fill="#ffffff"/>
<circle cx="480.20" cy="506.44" r="0.66" fill="#ffffff"/>
<circle cx="480.11" cy="505.11" r="0.66" fill="#ffffff"/>
<path d="M471.85,495.22 C471.85,493.08 473.39,491.88 475.49,491.88 C477.58,491.88 479.13,493.08 479.13,495.22 C479.13,496.72 478.65,497.79 478.18,498.43 L477.84,501.64 C477.24,502.28 473.82,502.28 473.22,501.64 L472.79,498.43 C472.32,497.79 471.85,496.72 471.85,495.22 Z" fill="#ffffff"/>
<ellipse cx="474.33" cy="496.80" rx="0.98" ry="0.69" fill="#231f20"/>
<ellipse cx="477.11" cy="496.80" rx="0.98" ry="0.69" fill="#231f20"/>
<ellipse cx="475.66" cy="498.04" rx="0.39" ry="0.47" fill="#231f20"/>
<text x="489.79" y="503.12" font-family="Liberation Sans" font-weight="bold" font-style="normal" font-size="9.4" fill="#231f20" textLength="88.32" lengthAdjust="spacingAndGlyphs" stroke="#231f20" stroke-width="0.35" stroke-linejoin="round">Illness and Death</text>
<rect x="0" y="543.8" width="768" height="49.20" fill="#a91d37"/>
<text x="31.20" y="572.85" font-family="Liberation Sans" font-weight="bold" font-style="normal" font-size="15" fill="#ffffff" textLength="395.34" lengthAdjust="spacingAndGlyphs" stroke="#ffffff" stroke-width="0.3" stroke-linejoin="round">The Chapman University Survey of American Fears 2018</text>
<text x="518.14" y="568.23" font-family="Liberation Serif" font-weight="normal" font-style="normal" font-size="20" fill="#ffffff" textLength="221.90" lengthAdjust="spacingAndGlyphs" stroke="#ffffff" stroke-width="0.35" stroke-linejoin="round">CHAPMAN UNIVERSITY</text>
<text x="565.16" y="584.90" font-family="Liberation Sans" font-weight="normal" font-style="normal" font-size="12.4" fill="#ffffff" textLength="90.67" lengthAdjust="spacingAndGlyphs">Orange, California</text>
<rect x="484.8" y="548.4" width="27.1" height="27" fill="#f6f2f2"/>
<g stroke="#b9b3b3" stroke-width="0.8"><line x1="486.8" y1="550.4" x2="509.9" y2="573.4"/><line x1="509.9" y1="550.4" x2="486.8" y2="573.4"/></g>
<g stroke="#6e6264" stroke-width="0.9"><line x1="498.4" y1="548.4" x2="498.4" y2="575.4"/><line x1="484.8" y1="562.2" x2="511.9" y2="562.2"/></g>
</svg></body></html>
